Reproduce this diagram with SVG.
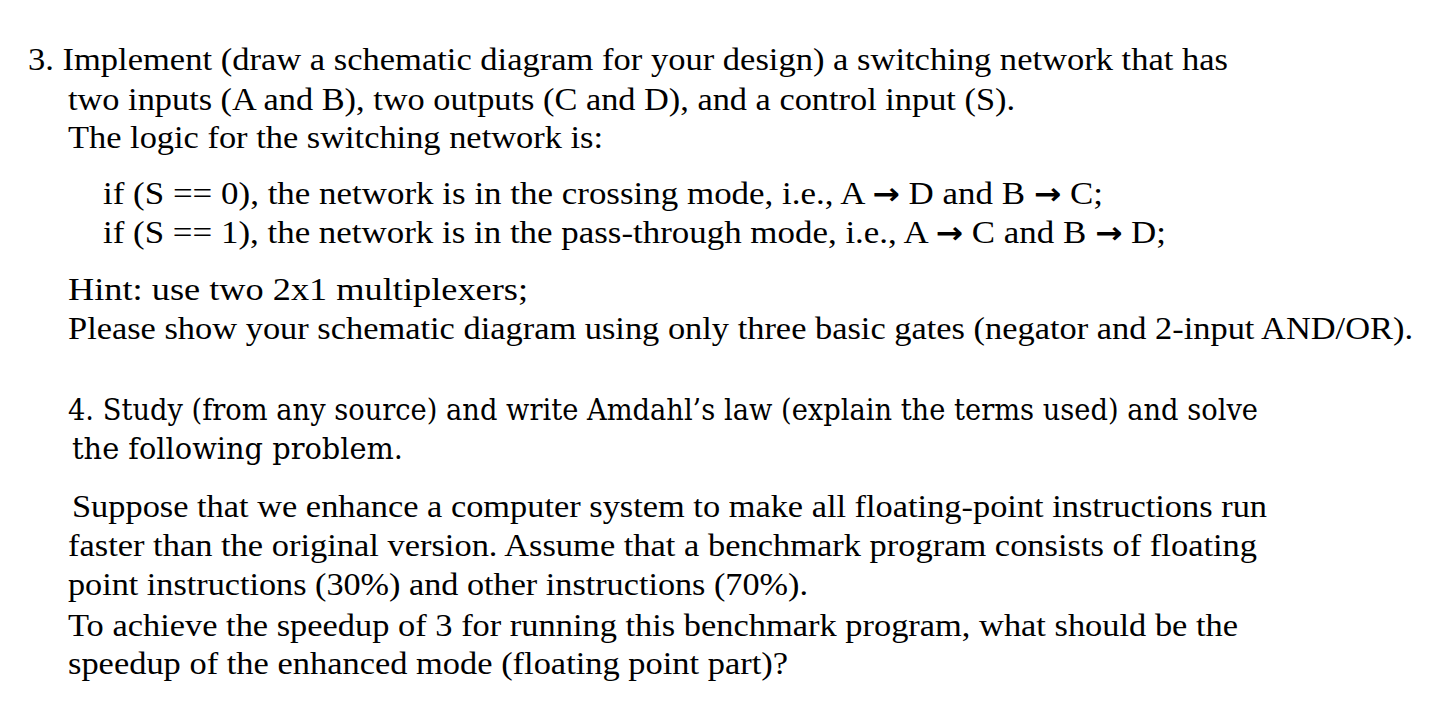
<svg xmlns="http://www.w3.org/2000/svg" width="1438" height="706" viewBox="0 0 1438 706">
<style>
text{font-family:"Liberation Serif","Times New Roman",serif;font-size:32px;fill:#000}
.c{font-family:"DejaVu Serif","Liberation Serif",serif;font-size:29px}
.a{font-family:"DejaVu Sans",sans-serif;font-weight:bold;font-size:30px}
</style>
<rect width="1438" height="706" fill="#fff"/>
<text x="28" y="70" textLength="1200" lengthAdjust="spacingAndGlyphs">3. Implement (draw a schematic diagram for your design) a switching network that has</text>
<text x="68" y="110" textLength="947" lengthAdjust="spacingAndGlyphs">two inputs (A and B), two outputs (C and D), and a control input (S).</text>
<text x="68" y="148" textLength="535" lengthAdjust="spacingAndGlyphs">The logic for the switching network is:</text>
<text x="103" y="204" textLength="1000" lengthAdjust="spacingAndGlyphs">if (S == 0), the network is in the crossing mode, i.e., A <tspan class="a">→</tspan> D and B <tspan class="a">→</tspan> C;</text>
<text x="103" y="243" textLength="1063" lengthAdjust="spacingAndGlyphs">if (S == 1), the network is in the pass-through mode, i.e., A <tspan class="a">→</tspan> C and B <tspan class="a">→</tspan> D;</text>
<text x="68" y="300" textLength="460" lengthAdjust="spacingAndGlyphs">Hint: use two 2x1 multiplexers;</text>
<text x="68" y="339" textLength="1345" lengthAdjust="spacingAndGlyphs">Please show your schematic diagram using only three basic gates (negator and 2-input AND/OR).</text>
<text class="c" x="68" y="420" textLength="1190" lengthAdjust="spacingAndGlyphs">4. Study (from any source) and write Amdahl’s law (explain the terms used) and solve</text>
<text class="c" x="72" y="459" textLength="331" lengthAdjust="spacingAndGlyphs">the following problem.</text>
<text x="72" y="517" textLength="1195" lengthAdjust="spacingAndGlyphs">Suppose that we enhance a computer system to make all floating-point instructions run</text>
<text x="68" y="556" textLength="1189" lengthAdjust="spacingAndGlyphs">faster than the original version. Assume that a benchmark program consists of floating</text>
<text x="68" y="595" textLength="740" lengthAdjust="spacingAndGlyphs">point instructions (30%) and other instructions (70%).</text>
<text x="68" y="636" textLength="1170" lengthAdjust="spacingAndGlyphs">To achieve the speedup of 3 for running this benchmark program, what should be the</text>
<text x="68" y="674" textLength="720" lengthAdjust="spacingAndGlyphs">speedup of the enhanced mode (floating point part)?</text>
</svg>
